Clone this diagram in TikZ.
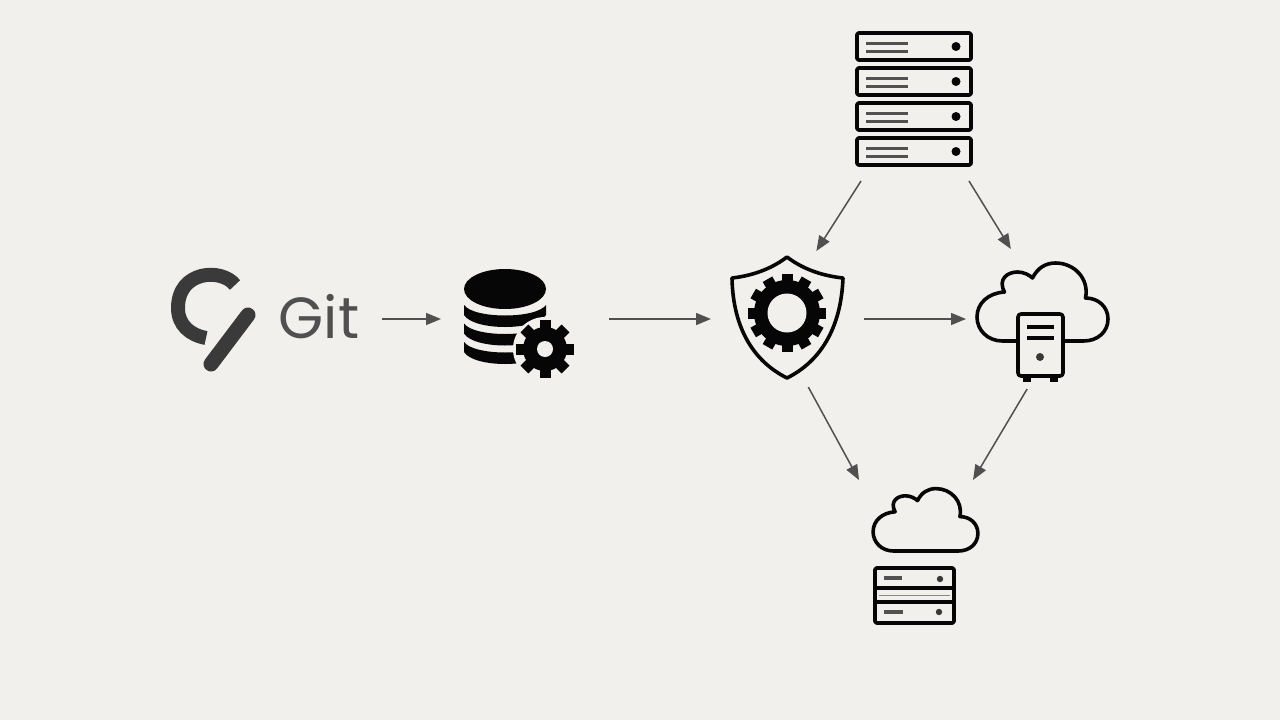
\documentclass[tikz,border=0pt]{standalone}
\usepackage{fontspec}
\setmainfont{Poppins}
\usetikzlibrary{arrows.meta}
\definecolor{paper}{HTML}{F1F0ED}
\definecolor{ink}{HTML}{060606}
\definecolor{logo}{HTML}{3A3A3A}
\definecolor{wire}{HTML}{505050}
\newcommand{\cloudoutline}{(-40,0) .. controls (-55,0) and (-65.5,-11) .. (-65.5,-24)
  .. controls (-65.5,-38) and (-54,-48) .. (-38,-49)
  .. controls (-45,-62) and (-35,-69) .. (-25,-69)
  .. controls (-19,-69) and (-13,-66) .. (-10,-63)
  .. controls (-5,-73) and (3,-78) .. (13,-78)
  .. controls (32,-78) and (47,-62) .. (43,-43)
  .. controls (56,-43) and (65.5,-34) .. (65.5,-22)
  .. controls (65.5,-9) and (55,0) .. (41,0) -- cycle}
\newcommand{\gearicon}[6]{
  \fill[ink] (#1) circle (#2);
  \foreach \a in {0,#5,...,359}
    \fill[ink,shift={(#1)},rotate=\a] (-#6,0) rectangle (#6,#3);
  \fill[paper] (#1) circle (#4);
}
\begin{document}
\begin{tikzpicture}[x=1pt,y=-1pt,
  hub/.style={inner sep=0pt,outer sep=0pt},
  paths/.style={-{Triangle[length=15pt,width=12pt]},wire,line width=1.5pt},
  outline/.style={ink,line width=3.6pt,line join=round},
  bar/.style={ink!70,line width=3pt}]

 \useasboundingbox (0,0) rectangle (1280,720);
 \fill[paper] (0,0) rectangle (1280,720);

 \node[hub,minimum width=126pt,text=wire,text height=41pt,text depth=3pt,font=\fontsize{58}{58}\selectfont] (git) at (319,319) {Git};
 \node[hub,minimum width=168pt,minimum height=110pt] (database) at (525,319) {};
 \node[hub,minimum width=153pt,minimum height=136pt] (shield) at (787.5,319) {};
 \node[hub,minimum width=152pt,minimum height=140pt] (hostcloud) at (1042,319) {};
 \node[hub,minimum width=108pt,minimum height=150pt] (rack) at (915,106) {};
 \node[hub,minimum width=114pt,minimum height=145pt] (edgecloud) at (916,552.5) {};

 \draw [paths] (git.east) -- (database.west);
 \draw [paths] (database.east) -- (shield.west);
 \draw [paths] (shield.east) -- (hostcloud.west);
 \draw [paths] (rack.south west) -- (shield.67.3);
 \draw [paths] (rack.south east) -- (hostcloud.114.6);
 \draw [paths] (shield.287.6) -- (edgecloud.north west);
 \draw [paths] (hostcloud.258.7) -- (edgecloud.north east);

 % logo
 \draw[logo,line width=14pt] (235,285) .. controls (222,268) and (178,270) .. (178,308)
   .. controls (178,325) and (190,335) .. (206,338);
 \draw[logo,line width=15pt,line cap=round] (248,315) -- (211,364);

 % database
 \fill[ink] (505,289) ellipse (41 and 20);
 \foreach \y in {0,18.5,37}
   \fill[ink] (464,305+\y) .. controls (474,319+\y) and (536,319+\y) .. (546,305+\y)
     -- (546,315+\y) .. controls (536,331+\y) and (474,331+\y) .. (464,315+\y) -- cycle;
 \fill[paper] (545,349) circle (32);
 \gearicon{545,349}{22}{29}{8}{45}{5.5}

 % shield
 \draw[outline] (787,257) .. controls (770,270) and (750,276) .. (732,278)
   .. controls (733,330) and (755,362) .. (787,378)
   .. controls (819,362) and (841,330) .. (843,278)
   .. controls (824,276) and (804,270) .. (787,257) -- cycle;
 \gearicon{787,313}{33}{39}{19.5}{30}{5.5}

 % cloud with tower
 \draw[outline,shift={(1042.5,341)}] \cloudoutline;
 \draw[outline,fill=paper,rounded corners=3pt] (1018,314) rectangle (1063,376);
 \fill[ink] (1023,376) rectangle (1031,382);
 \fill[ink] (1050,376) rectangle (1058,382);
 \draw[ink,line width=3.5pt] (1027,327) -- (1054,327);
 \draw[ink,line width=3.5pt] (1027,338) -- (1054,338);
 \fill[ink!80] (1040,357) circle (4);

 % rack
 \foreach \y in {33,68,103,138} {
   \draw[outline,rounded corners=1.5pt] (857,\y) rectangle (971,\y+27);
   \draw[bar] (866,\y+10) -- (908,\y+10);
   \draw[bar] (866,\y+18) -- (908,\y+18);
   \fill[ink] (956,\y+13.5) circle (4.5);
 }

 % lower cloud with server
 \draw[outline,shift={(925.5,551)},scale=0.8] \cloudoutline;
 \draw[outline,rounded corners=1.5pt] (875,568) rectangle (954,623);
 \draw[ink,line width=3.5pt] (875,588) -- (954,588);
 \draw[ink,line width=3.5pt] (875,602) -- (954,602);
 \draw[wire!70,line width=1pt] (879,595) -- (950,595);
 \draw[bar,line width=4pt] (884,578) -- (902,578);
 \draw[bar,line width=4pt] (884,612) -- (903,612);
 \fill[ink!80] (940,579) circle (3.2);
 \fill[ink!80] (939,612) circle (3.2);

\end{tikzpicture}
\end{document}
